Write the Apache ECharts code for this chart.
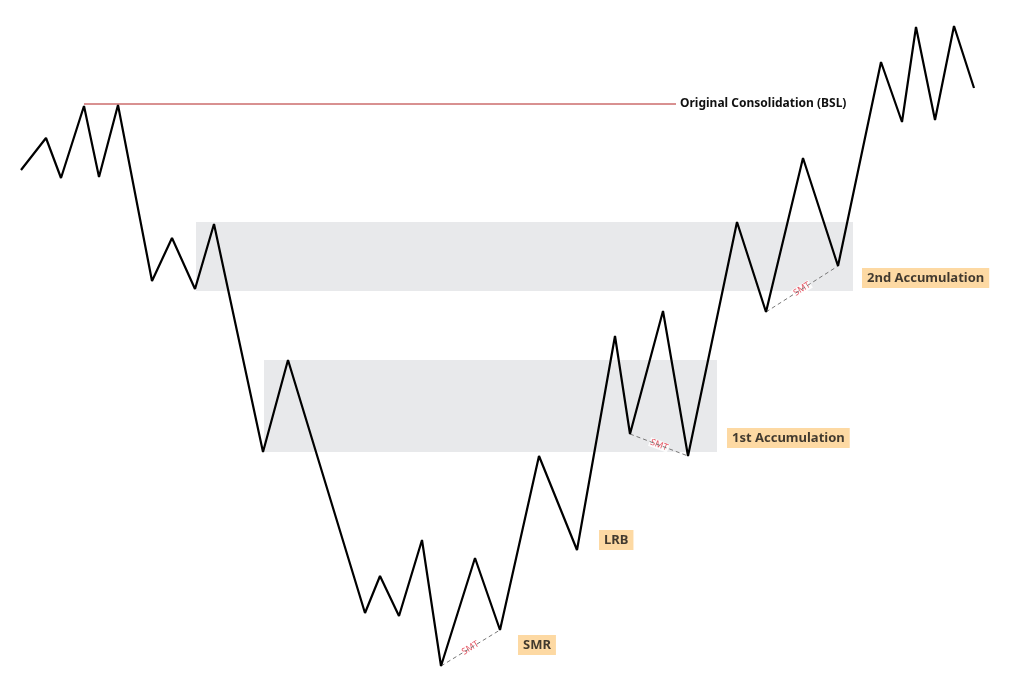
<!DOCTYPE html>
<html><head><meta charset="utf-8">
<script src="https://cdn.jsdelivr.net/npm/echarts@6/dist/echarts.min.js"></script>
<style>html,body{margin:0;background:#fff}#c{width:1023px;height:691px}</style>
</head><body><div id="c"></div>
<script>
// price path, in chart units (x right, y down)
const pathX = [21, 46, 61, 84, 99, 118, 152, 172, 195, 214, 263, 288, 365, 380, 399, 422, 441, 475, 500, 539, 577, 615, 630, 663, 688, 737, 766, 803, 838, 881, 902, 916, 935, 954, 974];
const pathY = [170, 138, 178, 106, 177, 105, 281, 238, 289, 224, 452, 360, 613, 576, 616, 540, 666, 558, 630, 456, 550, 336, 434, 311, 456, 222, 312, 158, 266, 62, 122, 27, 120, 26, 88];

const zones = [[196, 222, 853, 291], [264, 360, 717, 452]];
const bsl = { y: 104, x0: 84, x1: 676, text: 'Original Consolidation (BSL)' };
const smtLines = [[[441, 666], [500, 630]], [[630, 434], [688, 456]], [[766, 312], [838, 266]]];
const tags = [['LRB', 599, 540], ['SMR', 518, 645], ['1st Accumulation', 727, 438], ['2nd Accumulation', 862, 278]];

const series = [{
  type: 'line', data: pathX.map((x, i) => [x, pathY[i]]), symbol: 'none', z: 5,
  lineStyle: { color: '#000', width: 2.2 },
  markArea: { silent: true, itemStyle: { color: '#e8e9eb' }, data: zones.map(([a, b, c, d]) => [{ coord: [a, b] }, { coord: [c, d] }]) },
}, {
  type: 'line', data: [[bsl.x0, bsl.y], [bsl.x1, bsl.y]], symbol: 'none',
  lineStyle: { color: '#b22222', width: 1 },
  endLabel: { show: true, formatter: bsl.text, color: '#111', fontWeight: 'bold', fontSize: 12, fontFamily: 'Noto Sans', distance: 4 },
}];

smtLines.forEach(([p, q]) => {
  series.push({ type: 'line', data: [p, q], symbol: 'none', lineStyle: { color: '#777', width: 1, type: [4, 3] } });
  const ang = Math.atan2(p[1] - q[1], q[0] - p[0]) * 180 / Math.PI;
  series.push({
    type: 'scatter', symbolSize: 0, data: [[(p[0] + q[0]) / 2, (p[1] + q[1]) / 2]],
    label: { show: true, formatter: 'SMT', position: 'inside', offset: [0, 0], rotate: ang, color: '#e0283a', fontSize: 9, fontFamily: 'Noto Sans', backgroundColor: '#fff', padding: [0, 1] },
  });
});

series.push({
  type: 'scatter', symbolSize: 0, z: 10,
  data: tags.map(([t, x, y]) => ({ value: [x, y], name: t })),
  label: { show: true, position: 'right', distance: 0, formatter: '{b}', color: '#111', fontWeight: 'bold', fontSize: 13, fontFamily: 'Noto Sans', backgroundColor: '#fcd08c', padding: [4, 5, 3, 5] },
});

const chart = echarts.init(document.getElementById('c'));
chart.setOption({
  animation: false,
  grid: { left: 0, right: 0, top: 0, bottom: 0 },
  xAxis: { type: 'value', min: 0, max: 1023, show: false },
  yAxis: { type: 'value', min: 0, max: 691, inverse: true, show: false },
  series,
});
</script></body></html>
